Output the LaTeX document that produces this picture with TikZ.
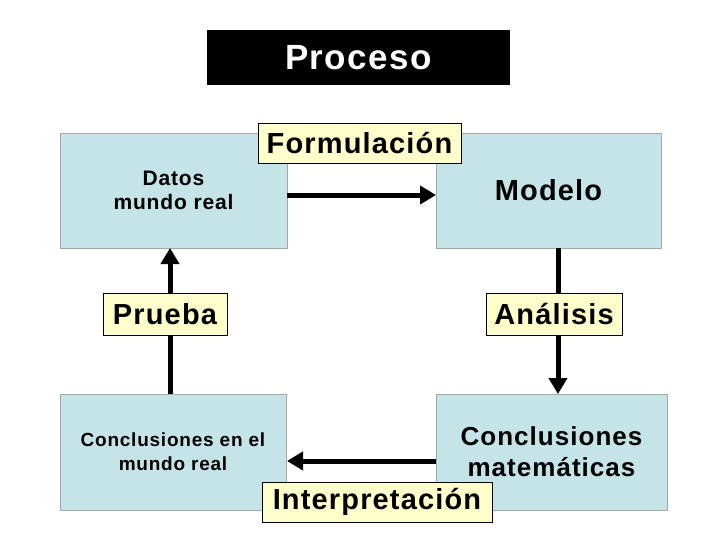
\documentclass[tikz,border=0pt]{standalone}
\usepackage{fontspec}
\setmainfont{Liberation Sans}[LetterSpace=4]
\usetikzlibrary{arrows.meta}
\definecolor{boxblue}{HTML}{C4E4E8}
\definecolor{lblyellow}{HTML}{FFFFCC}
\tikzset{
 bbox/.style={draw=gray!70,fill=boxblue,line width=0.8pt,align=center,font=\bfseries},
 lbl/.style={draw=black,fill=lblyellow,line width=0.8pt,font=\bfseries\fontsize{29}{33}\selectfont,inner sep=0pt},
 conn/.style={line width=5pt,-{Triangle[length=16pt,width=18pt]}}
}
\begin{document}
\begin{tikzpicture}[x=1pt,y=-1pt]
\useasboundingbox (0,0) rectangle (728,546);
\node[fill=black,minimum width=303pt,minimum height=55pt,text=white,font=\bfseries\fontsize{35}{40}\selectfont] (t) at (358.5,57.5) {Proceso};
\node[bbox,minimum width=227pt,minimum height=115pt,font=\bfseries\fontsize{21}{24}\selectfont] (d) at (173.5,190.5) {Datos\\mundo real};
\node[bbox,minimum width=225pt,minimum height=115pt,font=\bfseries\fontsize{29}{32}\selectfont] (m) at (548.5,190.5) {Modelo};
\node[bbox,minimum width=226pt,minimum height=116pt,font=\bfseries\fontsize{19}{24}\selectfont] (cr) at (173,452) {Conclusiones en el\\mundo real};
\node[bbox,minimum width=231pt,minimum height=116pt,font=\bfseries\fontsize{26}{31}\selectfont] (cm) at (551.5,452) {Conclusiones\\matemáticas};
\coordinate (a1) at (287,195); \coordinate (a2) at (436,195);
\coordinate (b1) at (558,248); \coordinate (b2) at (558,394);
\coordinate (c1) at (436,461); \coordinate (c2) at (287,461);
\coordinate (e1) at (170,394); \coordinate (e2) at (170,248);
\draw[conn] (a1) -- (a2);
\draw[conn] (b1) -- (b2);
\draw[conn] (c1) -- (c2);
\draw[conn] (e1) -- (e2);
\node[lbl,minimum width=203pt,minimum height=40pt] (f) at (359.5,143) {Formulación};
\node[lbl,minimum width=124pt,minimum height=42pt] (p) at (165,314) {Prueba};
\node[lbl,minimum width=136pt,minimum height=42pt] (an) at (554,314) {Análisis};
\node[lbl,minimum width=230pt,minimum height=40pt] (i) at (377,502) {Interpretación};
\end{tikzpicture}
\end{document}
